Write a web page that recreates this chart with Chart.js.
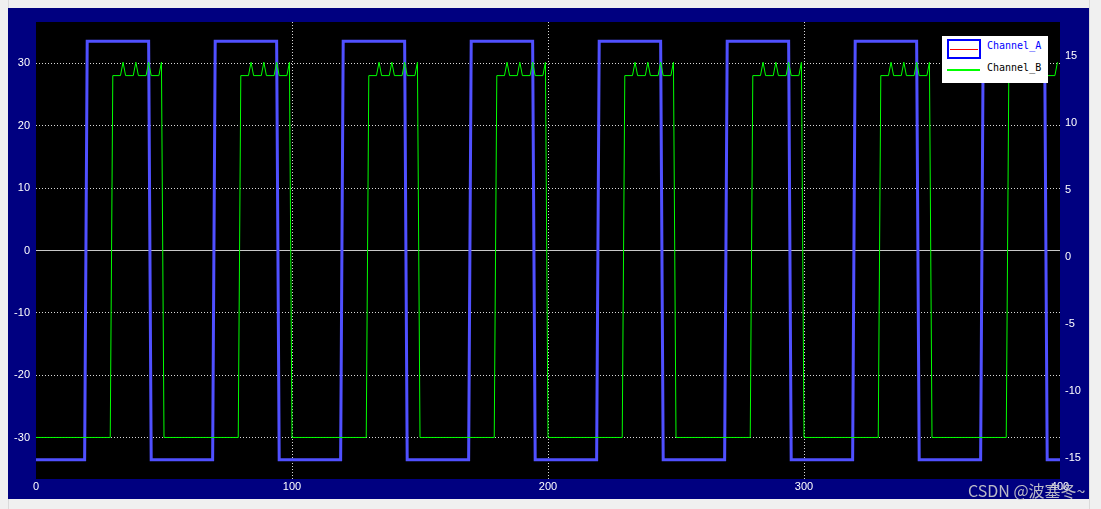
<!DOCTYPE html>
<html>
<head>
<meta charset="utf-8">
<script src="https://cdn.jsdelivr.net/npm/chart.js@4.4.0/dist/chart.umd.min.js"></script>
<style>
  html, body { margin: 0; padding: 0; background: #f0f0f0; }
  body { width: 1101px; height: 509px; position: relative; overflow: hidden; }
  #edge { position: absolute; left: 8px; top: 0; width: 1082px; height: 509px;
          box-sizing: border-box; border-left: 1px solid #dadada; border-right: 1px solid #dadada; }
  #panel { position: absolute; left: 8px; top: 8px; width: 1081px; height: 491px; background: #000080; }
  #panel canvas { position: absolute; left: 0; top: 0; }
  #legend { position: absolute; left: 942px; top: 36px; width: 106px; height: 47px; background: #fff;
            font-family: "DejaVu Sans Mono", monospace; font-size: 10px; }
  #legend .txt { position: absolute; left: 45px; height: 20px; line-height: 20px; white-space: nowrap; }
  #legend .box { position: absolute; left: 5px; top: 3px; width: 34px; height: 20px; box-sizing: border-box; border: 2px solid #0000ff; }
  #legend .box i { position: absolute; left: 1px; top: 8px; width: 28px; height: 1px; background: #ff0000; }
  #legend .ln { position: absolute; left: 5px; top: 33px; width: 33px; height: 2px; }
  #mark { position: absolute; left: 968px; top: 481px; font: 16px "Noto Sans CJK SC", sans-serif;
          line-height: 18px; color: rgba(205,205,205,0.9); white-space: nowrap; }
</style>
</head>
<body>
<div id="edge"></div>
<div id="panel"><canvas id="myChart" width="1081" height="491"></canvas></div>
<div id="legend"></div>
<div id="mark">CSDN @波塞冬~</div>
<script>
// x positions and levels of Channel_A (left axis)
const blueX = [0, 19, 20, 44, 45, 69, 70, 94, 95, 119, 120, 144, 145, 169, 170, 194, 195,
  219, 220, 244, 245, 269, 270, 294, 295, 319, 320, 344, 345, 369, 370, 394, 395, 400];
const blueY = [-33.5, -33.5, 33.5, 33.5, -33.5, -33.5, 33.5, 33.5, -33.5, -33.5, 33.5, 33.5,
  -33.5, -33.5, 33.5, 33.5, -33.5, -33.5, 33.5, 33.5, -33.5, -33.5, 33.5, 33.5,
  -33.5, -33.5, 33.5, 33.5, -33.5, -33.5, 33.5, 33.5, -33.5, -33.5];

// Channel_B (right axis)
const greenX = [
  0,
  29, 30, 33, 34, 35, 38, 39, 40, 43, 44, 45, 48, 49, 50,
  79, 80, 83, 84, 85, 88, 89, 90, 93, 94, 95, 98, 99, 100,
  129, 130, 133, 134, 135, 138, 139, 140, 143, 144, 145, 148, 149, 150,
  179, 180, 183, 184, 185, 188, 189, 190, 193, 194, 195, 198, 199, 200,
  229, 230, 233, 234, 235, 238, 239, 240, 243, 244, 245, 248, 249, 250,
  279, 280, 283, 284, 285, 288, 289, 290, 293, 294, 295, 298, 299, 300,
  329, 330, 333, 334, 335, 338, 339, 340, 343, 344, 345, 348, 349, 350,
  379, 380, 383, 384, 385, 388, 389, 390, 393, 394, 395, 398, 399
];
const greenY = [
  -13.5,
  -13.5, 13.5, 13.5, 14.5, 13.5, 13.5, 14.5, 13.5, 13.5, 14.5, 13.5, 13.5, 14.5, -13.5,
  -13.5, 13.5, 13.5, 14.5, 13.5, 13.5, 14.5, 13.5, 13.5, 14.5, 13.5, 13.5, 14.5, -13.5,
  -13.5, 13.5, 13.5, 14.5, 13.5, 13.5, 14.5, 13.5, 13.5, 14.5, 13.5, 13.5, 14.5, -13.5,
  -13.5, 13.5, 13.5, 14.5, 13.5, 13.5, 14.5, 13.5, 13.5, 14.5, 13.5, 13.5, 14.5, -13.5,
  -13.5, 13.5, 13.5, 14.5, 13.5, 13.5, 14.5, 13.5, 13.5, 14.5, 13.5, 13.5, 14.5, -13.5,
  -13.5, 13.5, 13.5, 14.5, 13.5, 13.5, 14.5, 13.5, 13.5, 14.5, 13.5, 13.5, 14.5, -13.5,
  -13.5, 13.5, 13.5, 14.5, 13.5, 13.5, 14.5, 13.5, 13.5, 14.5, 13.5, 13.5, 14.5, -13.5,
  -13.5, 13.5, 13.5, 14.5, 13.5, 13.5, 14.5, 13.5, 13.5, 14.5, 13.5, 13.5, 14.5
];

// tick labels and axis ranges
const xTicks = [0, 100, 200, 300, 400];
const leftTicks = [-30, -20, -10, 0, 10, 20, 30];
const rightTicks = [-15, -10, -5, 0, 5, 10, 15];
const xRange = [0, 400];
const leftRange = [-36.6, 36.6];
const rightRange = [-16.6, 17.5];

const toPoints = (xs, ys) => xs.map((x, i) => ({x: x, y: ys[i]}));
const tickFont = {family: 'Liberation Sans', size: 11};

// black plot area
const plotBackground = {
  id: 'plotBackground',
  beforeDraw(chart) {
    const a = chart.chartArea;
    const ctx = chart.ctx;
    ctx.save();
    ctx.fillStyle = '#000000';
    ctx.fillRect(a.left, a.top, a.right - a.left, a.bottom - a.top);
    ctx.restore();
  }
};

const ctx = document.getElementById('myChart');
const chart = new Chart(ctx, {
  type: 'line',
  data: {
    datasets: [{
      label: 'Channel_A',
      data: toPoints(blueX, blueY),
      borderColor: '#5050ff',
      borderWidth: 3,
      pointRadius: 0,
      tension: 0,
      yAxisID: 'y',
      order: 1
    }, {
      label: 'Channel_B',
      data: toPoints(greenX, greenY),
      borderColor: '#00ff00',
      borderWidth: 1,
      pointRadius: 0,
      tension: 0,
      yAxisID: 'y1',
      order: 0
    }]
  },
  options: {
    responsive: false,
    animation: false,
    layout: {padding: {top: 14, left: 0, right: 0, bottom: 0}},
    plugins: {legend: {display: false}, tooltip: {enabled: false}},
    scales: {
      x: {
        type: 'linear',
        min: xRange[0], max: xRange[1],
        afterBuildTicks: s => { s.ticks = xTicks.map(v => ({value: v})); },
        afterFit: s => { s.height = 20; },
        ticks: {color: '#ffffff', font: tickFont, padding: 1, maxRotation: 0},
        grid: {
          drawTicks: false,
          color: c => (c.tick && (c.tick.value === xRange[0] || c.tick.value === xRange[1])) ? 'rgba(0,0,0,0)' : '#d8d8d8'
        },
        border: {display: false, dash: [1, 2]}
      },
      y: {
        position: 'left',
        min: leftRange[0], max: leftRange[1],
        afterBuildTicks: s => { s.ticks = leftTicks.map(v => ({value: v})); },
        afterFit: s => { s.width = 28; },
        ticks: {color: '#ffffff', font: tickFont, padding: 6},
        grid: {
          drawTicks: false,
          color: c => (c.tick && c.tick.value === 0) ? '#c8c8c8' : '#d8d8d8'
        },
        border: {display: false, dash: c => (c.tick && c.tick.value === 0) ? [] : [1, 2]}
      },
      y1: {
        position: 'right',
        min: rightRange[0], max: rightRange[1],
        afterBuildTicks: s => { s.ticks = rightTicks.map(v => ({value: v})); },
        afterFit: s => { s.width = 29; },
        ticks: {color: '#ffffff', font: tickFont, padding: 5},
        grid: {display: false, drawTicks: false},
        border: {display: false}
      }
    }
  },
  plugins: [plotBackground]
});

// legend box inside the plot, built from the datasets
const legend = document.getElementById('legend');
chart.data.datasets.forEach((ds, i) => {
  const icon = document.createElement('div');
  if (i === 0) {
    icon.className = 'box';
    icon.style.borderColor = '#0000ff';
    icon.appendChild(document.createElement('i'));
  } else {
    icon.className = 'ln';
    icon.style.background = ds.borderColor;
  }
  const txt = document.createElement('div');
  txt.className = 'txt';
  txt.textContent = ds.label;
  txt.style.top = (i === 0 ? 0 : 21.5) + 'px';
  txt.style.color = i === 0 ? '#0000ff' : '#000000';
  legend.appendChild(icon);
  legend.appendChild(txt);
});
</script>
</body>
</html>
